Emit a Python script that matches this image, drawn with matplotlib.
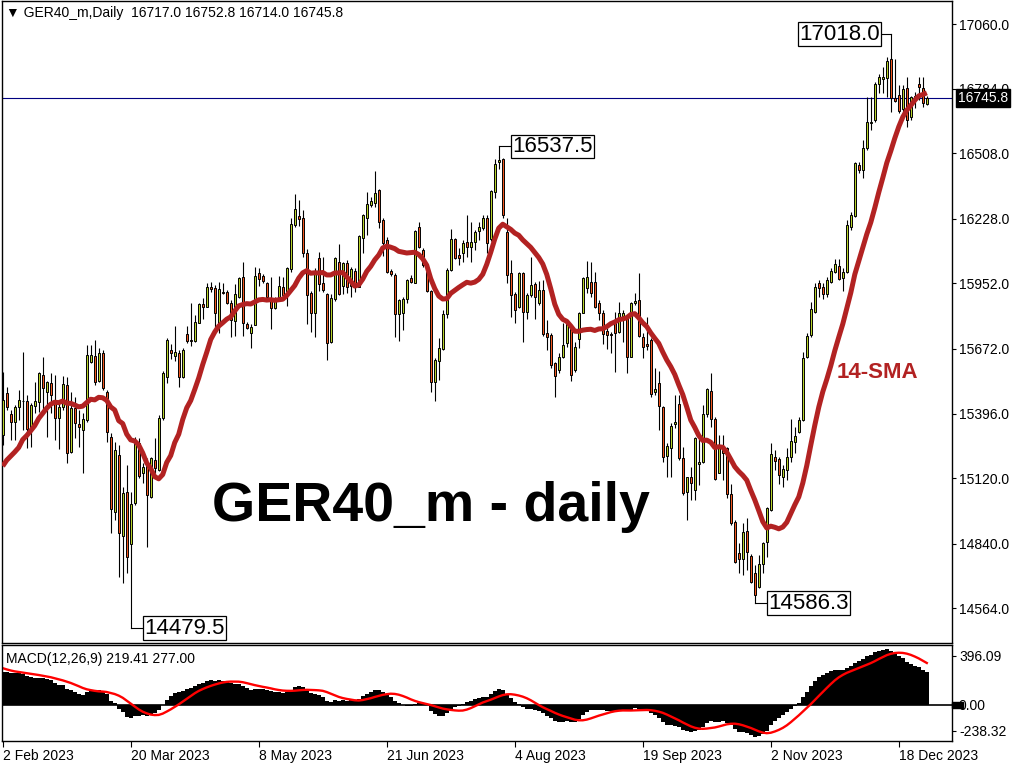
import numpy as np
import pandas as pd
import matplotlib
matplotlib.use('Agg')
import matplotlib.pyplot as plt
import matplotlib.transforms as mtransforms

plt.rcParams['font.family'] = ['Liberation Sans', 'DejaVu Sans']

# Daily OHLC, 2 Feb 2023 .. end Dec 2023 (one value per bar)
opens = [15304, 15482, 15394, 15361, 15423, 15451, 15450, 15329, 15428, 15447,
         15561, 15490, 15525, 15454, 15376, 15423, 15518, 15230, 15418, 15351,
         15326, 15369, 15615, 15642, 15537, 15653, 15487, 15294, 14974, 15217,
         14873, 15059, 14839, 15012, 15269, 15141, 15190, 15041, 15198, 15155,
         15376, 15551, 15666, 15642, 15654, 15551, 15735, 15710, 15708, 15785,
         15863, 15853, 15936, 15931, 15770, 15914, 15914, 15870, 15793, 15896,
         15978, 15779, 15739, 15776, 15995, 15984, 15955, 15889, 15846, 15896,
         15936, 15921, 16015, 16202, 16239, 16230, 16081, 15910, 15827, 16059,
         15953, 15906, 15700, 15886, 16042, 15943, 16038, 15941, 16005, 15938,
         16145, 16230, 16287, 16295, 16351, 16223, 16138, 16005, 15988, 15820,
         15824, 15886, 15974, 15955, 16192, 16095, 16002, 15920, 15532, 15622,
         15672, 15822, 16010, 16141, 16072, 16081, 16128, 16106, 16131, 16178,
         16188, 16230, 16141, 16344, 16473, 16482, 16173, 15995, 15907, 15853,
         15995, 15832, 15903, 15948, 15870, 15924, 15739, 15732, 15611, 15582,
         15639, 15696, 15760, 15582, 15713, 15827, 15931, 15957, 15957, 15870,
         15827, 15750, 15736, 15796, 15746, 15813, 15810, 15639, 15867, 15881,
         15725, 15693, 15710, 15487, 15525, 15425, 15216, 15247, 15351, 15435,
         15205, 15059, 15123, 15069, 15180, 15190, 15393, 15492, 15371, 15143,
         15255, 15247, 15051, 14934, 14802, 14773, 14896, 14787, 14713, 14656,
         14753, 14848, 14984, 15209, 15202, 15126, 15155, 15212, 15273, 15319,
         15368, 15636, 15732, 15832, 15953, 15938, 15906, 15960, 16002, 16027,
         15974, 16000, 16195, 16240, 16458, 16437, 16530, 16636, 16651, 16804,
         16824, 16829, 16910, 16743, 16757, 16696, 16786, 16665, 16743, 16804,
         16786, 16717.0]

highs = [15575, 15511, 15411, 15433, 15497, 15661, 15475, 15440, 15532, 15575,
         15639, 15537, 15568, 15561, 15447, 15558, 15554, 15490, 15468, 15411,
         15397, 15689, 15689, 15710, 15675, 15668, 15497, 15312, 15276, 15262,
         15084, 15176, 15062, 15297, 15290, 15183, 15205, 15212, 15290, 15390,
         15578, 15717, 15693, 15770, 15668, 15675, 15770, 15867, 15817, 15867,
         15889, 15955, 15960, 15946, 15960, 15953, 15924, 15881, 15948, 15981,
         16045, 15789, 15779, 16024, 16017, 15993, 15960, 15978, 15896, 15984,
         15978, 16024, 16230, 16334, 16309, 16266, 16098, 15921, 16017, 16088,
         16064, 15910, 15907, 16067, 16119, 16045, 16052, 16021, 16017, 16159,
         16249, 16344, 16323, 16433, 16354, 16230, 16149, 16012, 15995, 15884,
         15896, 15970, 15988, 16181, 16216, 16102, 16031, 15924, 15632, 15718,
         15839, 16017, 16183, 16145, 16102, 16138, 16245, 16216, 16181, 16216,
         16245, 16245, 16351, 16482, 16494, 16487, 16230, 16052, 15917, 16002,
         16002, 15910, 16064, 15960, 15964, 15967, 15796, 15739, 15618, 15653,
         15782, 15796, 15775, 15703, 15832, 15981, 16048, 16045, 16002, 15881,
         15839, 15760, 15746, 15832, 15874, 15839, 15817, 15874, 15910, 15995,
         15739, 15807, 15717, 15589, 15579, 15428, 15269, 15354, 15475, 15475,
         15255, 15126, 15169, 15297, 15290, 15433, 15504, 15571, 15383, 15304,
         15304, 15255, 15095, 14941, 14841, 14927, 14948, 14796, 14749, 14792,
         14848, 14998, 15269, 15240, 15212, 15176, 15247, 15371, 15340, 15380,
         15660, 15739, 15874, 15955, 15967, 15953, 15981, 16017, 16055, 16055,
         16017, 16223, 16259, 16473, 16473, 16565, 16747, 16747, 16814, 16846,
         16879, 16918, 16914, 16910, 16800, 16800, 16836, 16753, 16772, 16836,
         16836, 16752.8]

lows = [15262, 15411, 15283, 15283, 15369, 15326, 15247, 15255, 15397, 15404,
        15397, 15294, 15397, 15283, 15243, 15411, 15183, 15226, 15290, 15255,
        15143, 15361, 15611, 15518, 15532, 15497, 15276, 14887, 14941, 14699,
        14673, 14713, 14500, 15005, 15120, 15100, 14827, 15034, 15140, 15150,
        15369, 15528, 15631, 15622, 15508, 15547, 15696, 15686, 15703, 15782,
        15799, 15850, 15917, 15768, 15739, 15907, 15864, 15725, 15729, 15889,
        15729, 15756, 15678, 15773, 15941, 15953, 15889, 15759, 15842, 15889,
        15884, 15856, 16002, 16195, 16198, 16064, 15780, 15745, 15725, 15921,
        15917, 15625, 15696, 15879, 15903, 15907, 15910, 15896, 15917, 15935,
        16084, 16159, 16280, 16280, 16188, 16069, 15995, 15985, 15725, 15708,
        15753, 15867, 15955, 15953, 16102, 16024, 15917, 15490, 15451, 15540,
        15668, 15803, 16007, 16055, 16031, 16045, 16067, 16045, 16095, 16138,
        16181, 16081, 16135, 16316, 16440, 16230, 15955, 15810, 15782, 15846,
        15703, 15799, 15896, 15799, 15860, 15728, 15668, 15589, 15465, 15568,
        15632, 15682, 15537, 15575, 15675, 15824, 15910, 15896, 15846, 15796,
        15693, 15671, 15653, 15575, 15739, 15703, 15568, 15636, 15860, 15725,
        15632, 15668, 15465, 15475, 15326, 15190, 15126, 15126, 15333, 15198,
        15048, 14941, 15027, 15027, 15091, 15183, 15383, 15340, 15112, 15141,
        15112, 15034, 14920, 14756, 14713, 14706, 14727, 14670, 14599, 14649,
        14713, 14784, 14981, 15155, 15095, 15084, 15112, 15190, 15226, 15311,
        15365, 15632, 15725, 15824, 15896, 15884, 15896, 15953, 15995, 15967,
        15921, 15995, 16180, 16235, 16426, 16401, 16522, 16608, 16643, 16765,
        16765, 16750, 16686, 16729, 16679, 16651, 16622, 16651, 16700, 16736,
        16705, 16714.0]

closes = [15454, 15423, 15361, 15423, 15454, 15448, 15329, 15431, 15450, 15568,
          15504, 15530, 15474, 15376, 15425, 15521, 15229, 15418, 15354, 15337,
          15371, 15646, 15646, 15532, 15656, 15504, 15316, 14987, 15240, 14884,
          15055, 14784, 15010, 15272, 15131, 15169, 15048, 15205, 15162, 15378,
          15571, 15710, 15654, 15658, 15554, 15666, 15708, 15708, 15789, 15863,
          15850, 15936, 15930, 15824, 15927, 15911, 15867, 15796, 15906, 15974,
          15785, 15763, 15768, 15984, 15973, 15964, 15893, 15846, 15889, 15941,
          15903, 16017, 16206, 16269, 16229, 16081, 15901, 15827, 16002, 15950,
          15924, 15699, 15889, 16059, 15906, 16041, 15938, 16014, 15938, 16155,
          16245, 16290, 16304, 16337, 16213, 16124, 16000, 15991, 15820, 15881,
          15886, 15967, 15960, 16178, 16109, 16031, 15921, 15532, 15625, 15675,
          15822, 16010, 16141, 16059, 16059, 16126, 16109, 16128, 16171, 16192,
          16230, 16126, 16347, 16461, 16478, 16245, 15988, 15903, 15839, 15995,
          15832, 15903, 15946, 15896, 15924, 15735, 15722, 15604, 15557, 15639,
          15689, 15782, 15561, 15682, 15824, 15974, 15981, 15913, 15853, 15824,
          15735, 15732, 15733, 15739, 15827, 15827, 15636, 15870, 15877, 15727,
          15682, 15685, 15478, 15500, 15430, 15212, 15257, 15344, 15358, 15205,
          15055, 15123, 15098, 15290, 15190, 15393, 15500, 15371, 15115, 15259,
          15226, 15051, 14930, 14763, 14773, 14891, 14806, 14678, 14621, 14753,
          14841, 14991, 15223, 15195, 15133, 15158, 15212, 15280, 15300, 15368,
          15632, 15728, 15841, 15938, 15934, 15906, 15967, 16007, 16034, 15970,
          16000, 16202, 16245, 16465, 16437, 16530, 16643, 16643, 16804, 16836,
          16833, 16904, 16743, 16733, 16690, 16782, 16651, 16747, 16753, 16790,
          16722, 16745.8]

# closes before the first visible bar, only needed to start the indicators
warmup_closes = [15070, 15120, 15175, 15185, 14975, 15085, 15145, 15145, 15135,
                 15195, 15225, 15235, 15255]
ema_fast_seed = 15030
ema_slow_seed = 14590
macd_legend = (219.41, 277.00)

date_ticks = [0, 32, 64, 96, 128, 160, 192, 224]
date_labels = ['2 Feb 2023', '20 Mar 2023', '8 May 2023', '21 Jun 2023',
               '4 Aug 2023', '19 Sep 2023', '2 Nov 2023', '18 Dec 2023']
price_ticks = [17060, 16784, 16508, 16228, 15952, 15672, 15396, 15120, 14840, 14564]

# marked extremes: (bar, label value, which end, box side)
marks = [(222, 17018.0, 'high', 'left'),
         (124, 16537.5, 'high', 'right'),
         (32, 14479.5, 'low', 'right'),
         (188, 14586.3, 'low', 'right')]

opens = np.array(opens, float)
highs = np.array(highs, float)
lows = np.array(lows, float)
closes = np.array(closes, float)
idx = np.arange(len(closes))

# 14-period simple moving average
all_closes = np.concatenate([warmup_closes, closes])
sma = pd.Series(all_closes).rolling(14).mean().to_numpy()[len(warmup_closes):]

# MACD(12,26,9): EMA difference, signal = SMA of main (MT4 style)
fast, slow = ema_fast_seed, ema_slow_seed
main_all = []
for c in all_closes:
    fast += (c - fast) * 2 / 13
    slow += (c - slow) * 2 / 27
    main_all.append(fast - slow)
main_all = pd.Series(main_all)
signal_all = main_all.rolling(9, min_periods=1).mean()
macd_main = main_all.to_numpy()[len(warmup_closes):]
macd_signal = signal_all.to_numpy()[len(warmup_closes):]

fig = plt.figure(figsize=(10.24, 7.68), dpi=100)
ax = fig.add_axes([2 / 1024, 125 / 768, 950 / 1024, 642 / 768])
ax2 = fig.add_axes([2 / 1024, 27 / 768, 950 / 1024, 96 / 768])

xlim = (-0.175, 237.3)

# candles
up = closes >= opens
body_col = np.where(up, '#b8d22a', '#f0561e')
ax.vlines(idx, lows, highs, color='black', lw=0.8, zorder=2)
ax.bar(idx, np.abs(closes - opens), bottom=np.minimum(opens, closes), width=0.55,
       color=body_col, edgecolor='black', linewidth=0.7, zorder=3)

ax.axhline(closes[-1], color='#000080', lw=0.8, zorder=1)
ax.plot(idx, sma, color='#b22222', lw=3.6, zorder=4, solid_capstyle='butt')

# labels for the marked highs and lows
for bar, val, end, side in marks:
    extreme = highs[bar] if end == 'high' else lows[bar]
    ax.plot([bar, bar], [extreme, val], color='black', lw=0.8, zorder=5)
    if side == 'right':
        ax.plot([bar, bar + 3], [val, val], color='black', lw=0.8, zorder=5)
        ax.text(bar + 3.3, val, f'{val:.1f}', ha='left', va='center', fontsize=16,
                zorder=6, bbox=dict(boxstyle='square,pad=0.06', fc='white', ec='black', lw=0.9))
    else:
        ax.plot([bar, bar - 2.5], [val, val], color='black', lw=0.8, zorder=5)
        ax.text(bar - 2.8, val, f'{val:.1f}', ha='right', va='center', fontsize=16,
                zorder=6, bbox=dict(boxstyle='square,pad=0.06', fc='white', ec='black', lw=0.9))

ax.text(208.5, 15550, '14-SMA', color='#b22222', fontsize=16, fontweight='bold',
        ha='left', va='baseline', zorder=6)
fig.text(431 / 1024, 1 - 521 / 768, 'GER40_m - daily', fontsize=40, fontweight='bold',
         ha='center', va='baseline', color='black')

ax.set_xlim(*xlim)
ax.set_ylim(14415.5, 17159.1)
ax.set_xticks([])
ax.yaxis.tick_right()
ax.set_yticks(price_ticks)
ax.set_yticklabels([f'{p:.1f}' for p in price_ticks])
ax.tick_params(axis='y', length=3, width=0.8, pad=2, labelsize=10)

# current price box on the price scale
tr = mtransforms.blended_transform_factory(ax.transAxes, ax.transData)
ax.text(1.006, closes[-1], f'{closes[-1]:.1f}', transform=tr, color='white', fontsize=10,
        ha='left', va='center', zorder=10,
        bbox=dict(boxstyle='square,pad=0.15', fc='black', ec='black'))

ax.text(0.004, 0.992, '\u25bc GER40_m,Daily  ' +
        f'{opens[-1]:.1f} {highs[-1]:.1f} {lows[-1]:.1f} {closes[-1]:.1f}',
        transform=ax.transAxes, ha='left', va='top', fontsize=10,
        family=['Liberation Sans', 'DejaVu Sans'])

# MACD panel
ax2.bar(idx, macd_main, width=1.0, color='black', linewidth=0)
ax2.axhline(0, color='black', lw=1.2)
ax2.plot(idx, macd_signal, color='red', lw=1.7)
ax2.set_xlim(*xlim)
ax2.set_ylim(-238.32, 396.09)
ax2.yaxis.tick_right()
ax2.set_yticks([323.4, 0, -172.2])
ax2.set_yticklabels(['396.09', '0.00', '-238.32'])
ax2.tick_params(axis='y', length=3, width=0.8, pad=2, labelsize=10)
ax2.set_xticks(date_ticks)
ax2.set_xticklabels(date_labels, ha='left')
ax2.tick_params(axis='x', length=4, width=0.8, pad=2, labelsize=10)
ax2.text(0.004, 0.93, f'MACD(12,26,9) {macd_legend[0]:.2f} {macd_legend[1]:.2f}',
         transform=ax2.transAxes, ha='left', va='top', fontsize=10)
tr2 = mtransforms.blended_transform_factory(ax2.transAxes, ax2.transData)
ax2.add_patch(plt.Rectangle((1.0005, -20), 0.011, 42, transform=tr2, color='black',
                            clip_on=False, zorder=0))

for a in (ax, ax2):
    for s in a.spines.values():
        s.set_color('black')
        s.set_linewidth(1)

fig.savefig('out.png', dpi=100, facecolor='white')
